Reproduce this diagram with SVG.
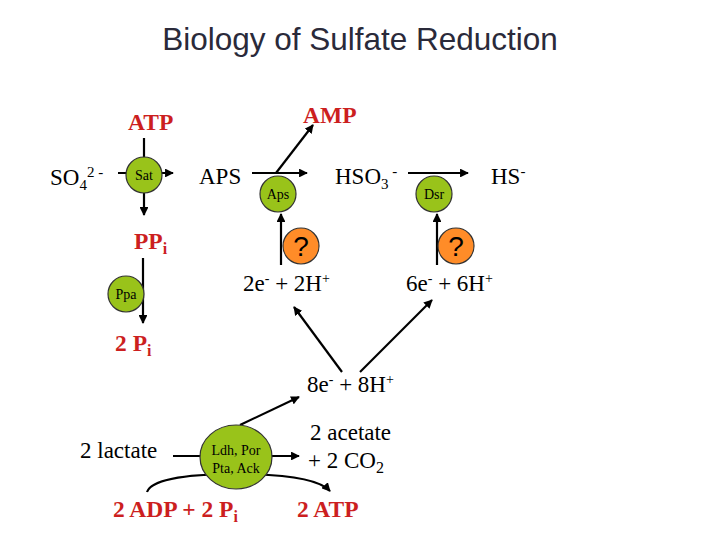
<svg xmlns="http://www.w3.org/2000/svg" width="720" height="540" viewBox="0 0 720 540">
<style>
.t{font-family:"Liberation Serif","Times New Roman",serif;font-size:23px;fill:#000}
.r{font-family:"Liberation Serif","Times New Roman",serif;font-size:23.5px;font-weight:bold;fill:#cc1f1f}
.s{font-family:"Liberation Serif","Times New Roman",serif;font-size:14px;fill:#000}
.g{fill:#99c31a;stroke:#333;stroke-width:1.2}
.o{fill:#ff8c28;stroke:#333;stroke-width:1.2}
.q{font-family:"Liberation Sans",Arial,sans-serif;font-size:28px;fill:#000}
.l{stroke:#000;stroke-width:2.2;fill:none}
</style>
<defs>
<marker id="a" viewBox="0 0 10 10" refX="9" refY="5" markerWidth="4" markerHeight="4" orient="auto" markerUnits="strokeWidth">
<path d="M0,0 L10,5 L0,10 z" fill="#000"/>
</marker>
</defs>
<rect width="720" height="540" fill="#fff"/>
<text x="360" y="50" text-anchor="middle" font-family="'Liberation Sans',Arial,sans-serif" font-size="31.5" fill="#2a2a3a">Biology of Sulfate Reduction</text>

<g id="connectors">
<line class="l" x1="118" y1="173" x2="173" y2="173" marker-end="url(#a)"/>
<line class="l" x1="144" y1="138" x2="144" y2="215" marker-end="url(#a)"/>
<line class="l" x1="252" y1="173" x2="307" y2="173" marker-end="url(#a)"/>
<line class="l" x1="276" y1="173" x2="313" y2="125" marker-end="url(#a)"/>
<line class="l" x1="408" y1="173" x2="468" y2="173" marker-end="url(#a)"/>
<line class="l" x1="281" y1="265" x2="281" y2="214" marker-end="url(#a)"/>
<line class="l" x1="437" y1="265" x2="437" y2="214" marker-end="url(#a)"/>
<line class="l" x1="143" y1="258" x2="143" y2="323" marker-end="url(#a)"/>
<line class="l" x1="342" y1="372" x2="294" y2="307" marker-end="url(#a)"/>
<line class="l" x1="360" y1="372" x2="432" y2="300" marker-end="url(#a)"/>
<line class="l" x1="240" y1="425" x2="299" y2="397" marker-end="url(#a)"/>
<line class="l" x1="173" y1="456" x2="299" y2="456" marker-end="url(#a)"/>
<path class="l" d="M147,492 C152,478 195,474 236,474 C280,474 318,478 330,491" marker-end="url(#a)"/>
</g>

<g id="sat"><circle class="g" cx="144" cy="175" r="18"/><text class="s" x="144" y="180" text-anchor="middle">Sat</text></g>
<g id="aps-enz"><circle class="g" cx="278" cy="194" r="18"/><text class="s" x="278" y="199" text-anchor="middle">Aps</text></g>
<g id="dsr"><circle class="g" cx="434" cy="194" r="18"/><text class="s" x="434" y="199" text-anchor="middle">Dsr</text></g>
<g id="ppa"><circle class="g" cx="126" cy="294" r="18"/><text class="s" x="126" y="299" text-anchor="middle">Ppa</text></g>
<g id="q1"><circle class="o" cx="301" cy="246" r="18"/><text class="q" x="301" y="256" text-anchor="middle">?</text></g>
<g id="q2"><circle class="o" cx="456" cy="246" r="18"/><text class="q" x="456" y="256" text-anchor="middle">?</text></g>
<g id="ldh"><ellipse class="g" cx="236" cy="457" rx="36" ry="32"/><text class="s" x="236" y="455" text-anchor="middle" font-size="15">Ldh, Por</text><text class="s" x="236" y="473" text-anchor="middle" font-size="15">Pta, Ack</text></g>

<g id="atp"><text class="r" x="128" y="130">ATP</text></g>
<g id="amp"><text class="r" x="303" y="123">AMP</text></g>
<g id="so4"><text class="t" x="50" y="185">SO<tspan font-size="15" dy="5">4</tspan><tspan font-size="15" dy="-13">2 -</tspan></text></g>
<g id="aps"><text class="t" x="199" y="184">APS</text></g>
<g id="hso3"><text class="t" x="335" y="184">HSO<tspan font-size="15" dy="5">3</tspan><tspan font-size="15" dy="-13"> -</tspan></text></g>
<g id="hs"><text class="t" x="491" y="184">HS<tspan font-size="15" dy="-8">-</tspan></text></g>
<g id="ppi"><text class="r" x="134" y="249">PP<tspan font-size="16" dy="5">i</tspan></text></g>
<g id="e2"><text class="t" x="243" y="291">2e<tspan font-size="14" dy="-8">-</tspan><tspan dy="8"> + 2H</tspan><tspan font-size="14" dy="-8">+</tspan></text></g>
<g id="e6"><text class="t" x="406" y="291">6e<tspan font-size="14" dy="-8">-</tspan><tspan dy="8"> + 6H</tspan><tspan font-size="14" dy="-8">+</tspan></text></g>
<g id="pi2"><text class="r" x="115" y="351">2 P<tspan font-size="16" dy="5">i</tspan></text></g>
<g id="e8"><text class="t" x="307" y="392">8e<tspan font-size="14" dy="-8">-</tspan><tspan dy="8"> + 8H</tspan><tspan font-size="14" dy="-8">+</tspan></text></g>
<g id="lactate"><text class="t" x="80" y="458">2 lactate</text></g>
<g id="acetate"><text class="t" x="310" y="440">2 acetate</text><text class="t" x="308" y="468">+ 2 CO<tspan font-size="16" dy="5">2</tspan></text></g>
<g id="adp"><text class="r" x="113" y="517">2 ADP + 2 P<tspan font-size="16" dy="5">i</tspan></text></g>
<g id="atp2"><text class="r" x="297" y="517">2 ATP</text></g>
</svg>
